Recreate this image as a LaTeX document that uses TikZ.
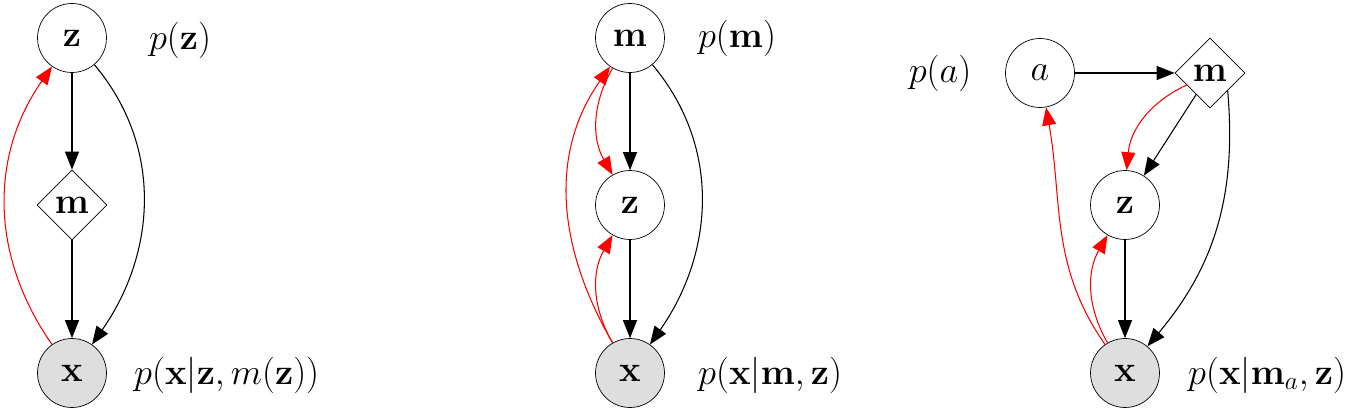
\documentclass[tikz,border=0pt]{standalone}
\usetikzlibrary{arrows.meta,shapes.geometric}
\begin{document}
\begin{tikzpicture}[x=0.02cm,y=-0.02cm,
 v/.style={circle,draw,minimum size=1.38cm,inner sep=0pt,font=\fontsize{21}{24}\selectfont},
 obs/.style={v,fill=black!13},
 dm/.style={diamond,draw,minimum size=1.4cm,inner sep=0pt,font=\fontsize{21}{24}\selectfont},
 lab/.style={font=\fontsize{22}{26}\selectfont},
 >={Triangle[length=0.36cm,width=0.28cm]},
 e/.style={->,line width=0.6pt},
 r/.style={->,red,line width=0.6pt}]
\useasboundingbox (0,0) rectangle (1347,412);
% left
\node[v] (z1) at (72,38) {$\mathbf z$};
\node[dm] (m1) at (72,205) {$\mathbf m$};
\node[obs] (x1) at (72,373) {$\mathbf x$};
\node[lab] at (180,40) {$p(\mathbf z)$};
\node[lab,anchor=west] at (128,375) {$p(\mathbf x|\mathbf z,m(\mathbf z))$};
\draw[e] (z1) -- (m1);
\draw[e] (m1) -- (x1);
\draw[e] (z1) to[out=-50,in=55] (x1);
\draw[r] (x1) to[out=125,in=-125] (z1);
% middle
\node[v] (m2) at (630,38) {$\mathbf m$};
\node[v] (z2) at (630,205) {$\mathbf z$};
\node[obs] (x2) at (630,373) {$\mathbf x$};
\node[lab] at (737,38) {$p(\mathbf m)$};
\node[lab,anchor=west] at (692,375) {$p(\mathbf x|\mathbf m,\mathbf z)$};
\draw[e] (m2) -- (z2);
\draw[e] (z2) -- (x2);
\draw[e] (m2) to[out=-50,in=55] (x2);
\draw[r] (m2) to[bend right=30] (z2);
\draw[r] (x2) to[bend left=30] (z2);
\draw[r] (x2) to[out=120,in=-125] (m2);
% right
\node[v] (a3) at (1040,73) {$a$};
\node[dm] (m3) at (1210,73) {$\mathbf m$};
\node[v] (z3) at (1125,205) {$\mathbf z$};
\node[obs] (x3) at (1125,373) {$\mathbf x$};
\node[lab] at (940,73) {$p(a)$};
\node[lab,anchor=west] at (1182,375) {$p(\mathbf x|\mathbf m_a,\mathbf z)$};
\draw[e] (a3) -- (m3);
\draw[e] (m3) -- (z3);
\draw[e] (z3) -- (x3);
\draw[e] (m3.south east) to[out=-85,in=50] (x3);
\draw[r] (m3) to[bend right=30] (z3);
\draw[r] (x3) to[bend left=30] (z3);
\draw[r] (x3) to[out=125,in=-80] (a3);
\end{tikzpicture}
\end{document}
